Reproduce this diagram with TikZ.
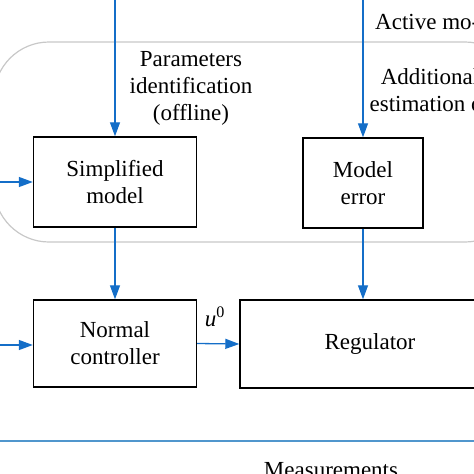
\documentclass[tikz,border=0pt]{standalone}
\usepackage{fontspec}
\setmainfont{Liberation Serif}
\usetikzlibrary{arrows.meta}

\definecolor{flowblue}{RGB}{20,110,200}
\definecolor{busblue}{RGB}{80,150,205}
\definecolor{framegray}{RGB}{200,200,200}

\begin{document}
\begin{tikzpicture}[x=1pt,y=-1pt,
  font=\fontsize{23}{27}\selectfont,
  block/.style={rectangle,draw,line width=1.4pt,align=center,inner sep=0pt},
  flow/.style={draw=flowblue,line width=1.3pt,-{Triangle[length=14pt,width=10pt]}},
  label/.style={align=center,inner sep=0pt}]
\useasboundingbox (0,0) rectangle (474,474);
\clip (0,0) rectangle (474,474);
% gray frame round the model part
\draw [framegray,line width=1.2pt,rounded corners=55pt] (-6,42) rectangle (520,242);
% blocks
\node [block,minimum width=163pt,minimum height=90pt] (simp) at (115,182) {Simplified\\model};
\node [block,minimum width=120pt,minimum height=90pt] (err) at (363,183) {Model\\error};
\node [block,minimum width=163pt,minimum height=87pt] (ctrl) at (115,343.5) {Normal\\controller};
\node [block,minimum width=260pt,minimum height=88pt] (reg) at (370,344) {Regulator};
% texts
\node [label] (param) at (191,88) {Parameters\\identification\\(offline)};
\node [label,anchor=base west] (active) at (375,29) {Active mo-};
\node [label] (addit) at (430,90) {Additional\\estimation of};
\node [label] (uzero) at (215,317) {\textit{u}\textsuperscript{0}};
\node [label,anchor=base] (meas) at (331,477) {Measurements};
% free ends
\coordinate (simptop) at (115,0);
\coordinate (errtop) at (363,0);
\coordinate (simpin) at (0,182);
\coordinate (ctrlin) at (0,345);
\coordinate (busl) at (0,441);
\coordinate (busr) at (474,441);
% connectors
\draw [flow] (simptop) -- (simp.north);
\draw [flow] (errtop) -- (err.north);
\draw [flow] (simpin) -- (simpin -| simp.west);
\draw [flow] (ctrlin) -- (ctrlin -| ctrl.west);
\draw [flow] (simp.south) -- (ctrl.north);
\draw [flow] (err.south) -- (err.south |- reg.north);
\draw [flow] (ctrl.east) -- (reg.west);
\draw [busblue,line width=2pt] (busl) -- (busr);
\end{tikzpicture}
\end{document}
